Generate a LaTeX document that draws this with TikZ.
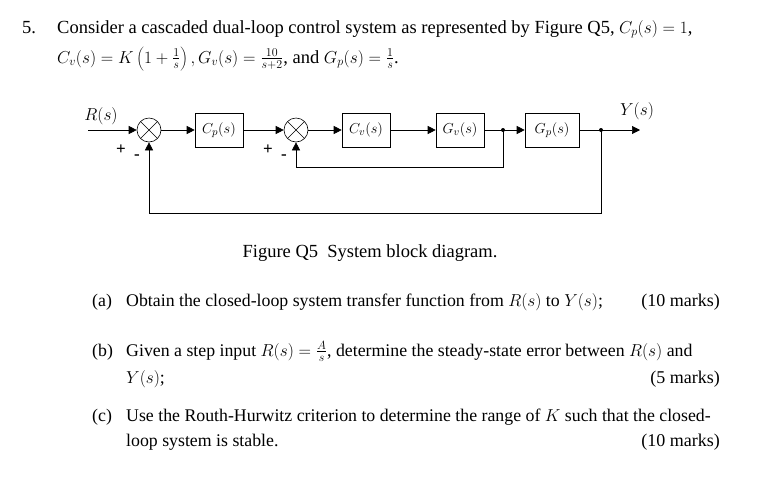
\documentclass[tikz,border=0pt]{standalone}
\usepackage{fontspec}
\setmainfont{Liberation Serif}
\usetikzlibrary{arrows.meta}
\begin{document}
\begin{tikzpicture}[x=1pt,y=-1pt,
  txt/.style={anchor=base west,inner sep=0pt,font=\fontsize{18.5}{22}\selectfont},
  itx/.style={anchor=base west,inner sep=0pt,font=\fontsize{17.8}{22}\selectfont},
  rtxt/.style={anchor=base east,inner sep=0pt,font=\fontsize{18}{22}\selectfont},
  blk/.style={draw,line width=0.6pt,minimum width=48pt,minimum height=34pt,inner sep=0pt,font=\fontsize{15.5}{18}\selectfont},
  sum/.style={draw,circle,line width=0.6pt,minimum size=24pt,inner sep=0pt,path picture={\draw[line width=0.6pt] (path picture bounding box.south west)--(path picture bounding box.north east) (path picture bounding box.north west)--(path picture bounding box.south east);}},
  arr/.style={line width=0.6pt,-{Triangle[length=8pt,width=8pt]}},
  ln/.style={line width=0.6pt},
  sg/.style={font=\bfseries\fontsize{17}{20}\selectfont,inner sep=0pt}]
\useasboundingbox (0,0) rectangle (768,483);
% text
\node[txt] (n5) at (22,33) {5.};
\node[txt] (l1) at (57,33) {Consider a cascaded dual-loop control system as represented by Figure Q5, $C_p(s)=1$,};
\node[txt] (l2) at (57,63) {$C_v(s)=K\left(1+\frac{1}{s}\right), G_v(s)=\frac{10}{s+2}$, and $G_p(s)=\frac{1}{s}$.};
\node[txt,anchor=base] (cap) at (370,257) {Figure Q5\ \ System block diagram.};
\node[itx] (a0) at (92,306) {(a)};
\node[itx] (a1) at (126,306) {Obtain the closed-loop system transfer function from $R(s)$ to $Y(s)$;};
\node[rtxt] (a2) at (720,306) {(10 marks)};
\node[itx] (b0) at (92,356) {(b)};
\node[itx] (b1) at (126,356) {Given a step input $R(s)=\frac{A}{s}$, determine the steady-state error between $R(s)$ and};
\node[itx] (b2) at (126,383) {$Y(s)$;};
\node[rtxt] (b3) at (720,383) {(5 marks)};
\node[itx] (c0) at (92,421) {(c)};
\node[itx] (c1) at (126,421) {Use the Routh-Hurwitz criterion to determine the range of $K$ such that the closed-};
\node[itx] (c2) at (126,446) {loop system is stable.};
\node[rtxt] (c3) at (720,446) {(10 marks)};
% diagram
\coordinate (in) at (88,130);
\node[sum] (s1) at (149,130) {};
\node[blk] (cp) at (219,130) {$C_p(s)$};
\node[sum] (s2) at (296,130) {};
\node[blk] (cv) at (366,130) {$C_v(s)$};
\node[blk] (gv) at (460,130) {$G_v(s)$};
\node[blk,minimum width=54pt] (gp) at (552,130) {$G_p(s)$};
\coordinate (j1) at (503,130);
\coordinate (j2) at (601,130);
\coordinate (out) at (640,130);
\node[font=\fontsize{16}{19}\selectfont] (R) at (101,116) {$R(s)$};
\node[font=\fontsize{16}{19}\selectfont] (Y) at (637,111) {$Y(s)$};
\draw[arr] (in) -- (s1);
\draw[arr] (s1) -- (cp);
\draw[arr] (cp) -- (s2);
\draw[arr] (s2) -- (cv);
\draw[arr] (cv) -- (gv);
\draw[ln] (gv) -- (j1);
\draw[arr] (j1) -- (gp);
\draw[ln] (gp) -- (j2);
\draw[arr] (j2) -- (out);
\fill (j1) circle (2pt) (j2) circle (2pt);
\draw[arr] (j1) -- (503,167) -- (296,167) -- (s2);
\draw[arr] (j2) -- (601,213) -- (149,213) -- (s1);
\node[sg] (p1) at (121,150) {+};
\node[sg] (m1) at (137,157) {-};
\node[sg] (p2) at (268,150) {+};
\node[sg] (m2) at (284,157) {-};
\end{tikzpicture}
\end{document}
